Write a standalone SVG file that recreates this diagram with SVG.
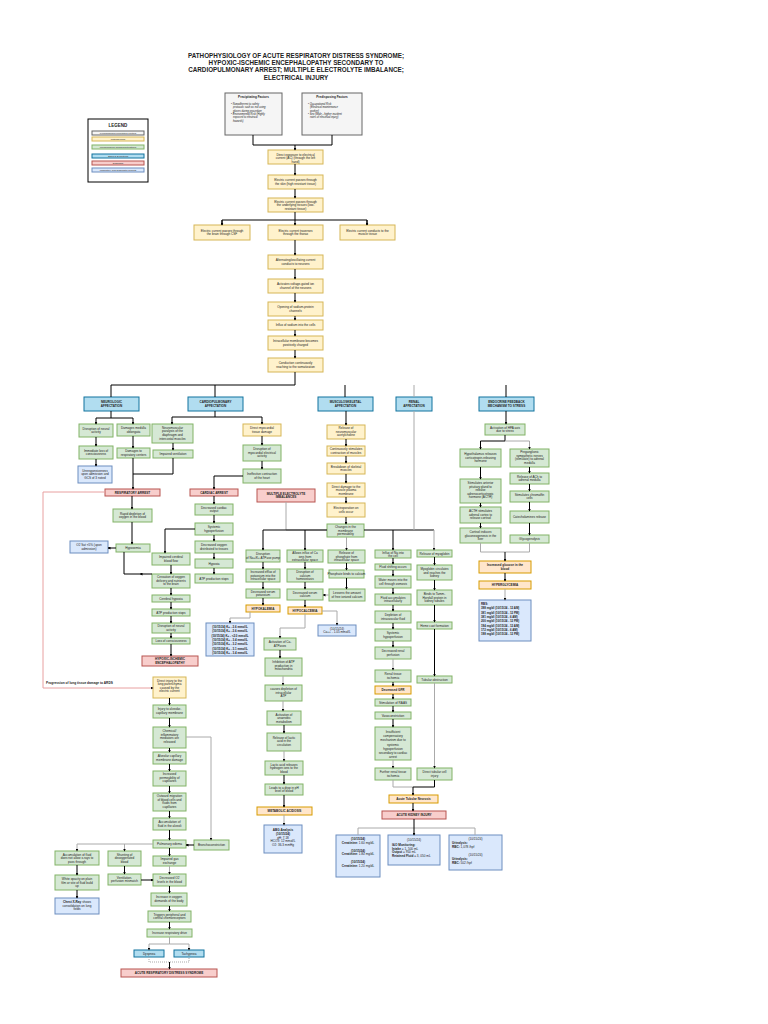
<svg xmlns="http://www.w3.org/2000/svg" width="768" height="1024" viewBox="0 0 768 1024">
<defs>
<marker id="a" viewBox="0 0 6 6" refX="5" refY="3" markerWidth="3" markerHeight="3" orient="auto"><path d="M0,0L6,3L0,6z" fill="#000"/></marker>
<style>
text{font-family:"Liberation Sans",Arial,sans-serif;font-size:3.1px;text-anchor:middle;fill:#222}
.b{font-weight:bold}
rect{stroke-width:1}
.g{fill:#d5e8d4;stroke:#82b366}
.y{fill:#fff2cc;stroke:#d6b656}
.s{fill:#b1ddf0;stroke:#10739e}
.r{fill:#f8cecc;stroke:#b85450}
.l{fill:#dae8fc;stroke:#6c8ebf}
.o{fill:#ffe6cc;stroke:#d79b00}
.p{fill:#f5f5f5;stroke:#666}
.c path{fill:none;stroke:#000;stroke-width:1;marker-end:url(#a)}
.c path.gr{stroke:#aaa}
.c path.n{marker-end:none}
</style>
</defs>
<rect width="768" height="1024" fill="#fff"/>
<g id="title"><text class="b" style="font-size:6.3px" x="296" y="58">PATHOPHYSIOLOGY OF ACUTE RESPIRATORY DISTRESS SYNDROME;<tspan x="296" dy="7.2">HYPOXIC-ISCHEMIC ENCEPHALOPATHY SECONDARY TO</tspan><tspan x="296" dy="7.2">CARDIOPULMONARY ARREST; MULTIPLE ELECTROLYTE IMBALANCE;</tspan><tspan x="296" dy="7.2">ELECTRICAL INJURY</tspan></text></g>

<g id="legend"><rect x="88" y="119" width="60" height="63" fill="#fff" stroke="#000" stroke-width="1"/>
<text class="b" style="font-size:4.5px" x="118" y="127">LEGEND</text>
<rect class="p" x="92" y="131" width="52" height="4"/><text x="118" y="134.2" style="font-size:2.4px">Predisposing/Precipitating Factors</text>
<rect class="y" x="92" y="137" width="52" height="4"/><text x="118" y="140.2" style="font-size:2.4px">Pathogenesis</text>
<rect class="g" x="92" y="145" width="52" height="4"/><text x="118" y="148.2" style="font-size:2.4px">Morphological changes/alterations</text>
<rect class="s" x="92" y="154" width="52" height="4"/><text x="118" y="157.2" style="font-size:2.4px">Signs &amp; Symptoms</text>
<rect class="r" x="92" y="161" width="52" height="4"/><text x="118" y="164.2" style="font-size:2.4px">Diagnosis</text>
<rect class="l" x="92" y="168" width="52" height="4"/><text x="118" y="171.2" style="font-size:2.4px">Laboratory and Diagnostic Results</text></g>

<g id="precip"><rect class="p" x="225" y="93" width="57" height="42"/><text class="b" x="253.5" y="98">Precipitating Factors</text>
<text style="text-anchor:start;font-style:italic;font-size:2.7px" x="231" y="105">• Nonadherent to safety<tspan x="233" dy="3.3">protocols such as not using</tspan><tspan x="233" dy="3.3">gloves during procedure</tspan><tspan x="231" dy="3.3">• Environmental Risk (Highly</tspan><tspan x="233" dy="3.3">exposed to electrical</tspan><tspan x="233" dy="3.3">hazards)</tspan></text></g>
<g id="predisp"><rect class="p" x="302" y="93" width="60" height="42"/><text class="b" x="332" y="98">Predisposing Factors</text>
<text style="text-anchor:start;font-style:italic;font-size:2.7px" x="308" y="105">• Occupational Risk<tspan x="310" dy="3.3">(Electrical maintenance</tspan><tspan x="310" dy="3.3">worker)</tspan><tspan x="308" dy="3.3">• Sex (Male - higher incident</tspan><tspan x="310" dy="3.3">rates of electrical injury)</tspan></text></g>

<g id="n1"><rect class="y" x="268" y="150" width="55" height="14"/><text x="295.5" y="155.5">Direct exposure to electrical<tspan x="295.5" dy="3.6">current (AC) (through the left</tspan><tspan x="295.5" dy="3.6">hand)</tspan></text></g>
<g id="n2"><rect class="y" x="268" y="175" width="55" height="14"/><text x="295.5" y="181">Electric current passes through<tspan x="295.5" dy="3.6">the skin (high resistant tissue)</tspan></text></g>
<g id="n3"><rect class="y" x="268" y="198" width="55" height="14"/><text x="295.5" y="202.5">Electric current passes through<tspan x="295.5" dy="3.6">the underlying tissues (low-</tspan><tspan x="295.5" dy="3.6">resistant tissue)</tspan></text></g>
<g id="n4a"><rect class="y" x="194" y="225" width="56" height="15"/><text x="222" y="231.5">Electric current passes through<tspan x="222" dy="3.6">the brain through CSF</tspan></text></g>
<g id="n4b"><rect class="y" x="268" y="225" width="55" height="15"/><text x="295.5" y="231.5">Electric current traverses<tspan x="295.5" dy="3.6">through the thorax</tspan></text></g>
<g id="n4c"><rect class="y" x="340" y="225" width="55" height="15"/><text x="367.5" y="231.5">Electric current conducts to the<tspan x="367.5" dy="3.6">muscle tissue</tspan></text></g>
<g id="n5"><rect class="y" x="268" y="255" width="55" height="14"/><text x="295.5" y="261">Alternating/oscillating current<tspan x="295.5" dy="3.6">conducts to neurons</tspan></text></g>
<g id="n6"><rect class="y" x="268" y="279" width="55" height="14"/><text x="295.5" y="285">Activates voltage-gated ion<tspan x="295.5" dy="3.6">channel of the neurons</tspan></text></g>
<g id="n7"><rect class="y" x="268" y="302" width="55" height="14"/><text x="295.5" y="308">Opening of sodium-protein<tspan x="295.5" dy="3.6">channels</tspan></text></g>
<g id="n8"><rect class="y" x="268" y="320" width="55" height="10"/><text x="295.5" y="326">Influx of sodium into the cells</text></g>
<g id="n9"><rect class="y" x="268" y="336" width="55" height="14"/><text x="295.5" y="342">Intracellular membrane becomes<tspan x="295.5" dy="3.6">positively charged</tspan></text></g>
<g id="n10"><rect class="y" x="268" y="358" width="55" height="14"/><text x="295.5" y="364">Conduction continuously<tspan x="295.5" dy="3.6">reaching to the somatization</tspan></text></g>

<g id="neuro"><rect class="s" x="84" y="397" width="55" height="14"/><text class="b" x="111.5" y="403">NEUROLOGIC<tspan x="111.5" dy="3.6">AFFECTATION</tspan></text></g>
<g id="cardio"><rect class="s" x="188" y="397" width="55" height="14"/><text class="b" x="215.5" y="403">CARDIOPULMONARY<tspan x="215.5" dy="3.6">AFFECTATION</tspan></text></g>
<g id="musc"><rect class="s" x="318" y="397" width="55" height="14"/><text class="b" x="345.5" y="403">MUSCULOSKELETAL<tspan x="345.5" dy="3.6">AFFECTATION</tspan></text></g>
<g id="renal"><rect class="s" x="396" y="397" width="36" height="14"/><text class="b" x="414" y="403">RENAL<tspan x="414" dy="3.6">AFFECTATION</tspan></text></g>
<g id="endo"><rect class="s" x="479" y="397" width="55" height="14"/><text class="b" x="506.5" y="403">ENDOCRINE FEEDBACK<tspan x="506.5" dy="3.6">MECHANISM TO STRESS</tspan></text></g>

<g id="ne1"><rect class="g" x="79" y="424" width="34" height="13"/><text x="96" y="429.5">Disruption of neural<tspan x="96" dy="3.6">activity</tspan></text></g>
<g id="ne2"><rect class="g" x="117" y="424" width="33" height="12"/><text x="133.5" y="429">Damages medulla<tspan x="133.5" dy="3.6">oblongata</tspan></text></g>
<g id="ne3"><rect class="g" x="79" y="446" width="34" height="13"/><text x="96" y="451.5">Immediate loss of<tspan x="96" dy="3.6">consciousness</tspan></text></g>
<g id="ne4"><rect class="g" x="117" y="448" width="33" height="10"/><text x="133.5" y="452">Damages to<tspan x="133.5" dy="3.6">respiratory centers</tspan></text></g>
<g id="ne5"><rect class="l" x="78" y="466" width="34" height="17"/><text x="95" y="471.5">Unresponsiveness<tspan x="95" dy="3.6">upon admission and</tspan><tspan x="95" dy="3.6">GCS of 3 noted</tspan></text></g>
<g id="cp1"><rect class="g" x="152" y="424" width="41" height="19"/><text x="172.5" y="428.8">Neuromuscular<tspan x="172.5" dy="3.6">paralysis of the</tspan><tspan x="172.5" dy="3.6">diaphragm and</tspan><tspan x="172.5" dy="3.6">intercostal muscles</tspan></text></g>
<g id="cp2"><rect class="g" x="153" y="450" width="40" height="8"/><text x="173" y="455">Impaired ventilation</text></g>
<g id="cp3"><rect class="y" x="243" y="424" width="38" height="12"/><text x="262" y="429">Direct myocardial<tspan x="262" dy="3.6">tissue damage</tspan></text></g>
<g id="cp4"><rect class="g" x="243" y="445" width="38" height="16"/><text x="262" y="450">Disruption of<tspan x="262" dy="3.6">myocardial electrical</tspan><tspan x="262" dy="3.6">activity</tspan></text></g>
<g id="cp5"><rect class="g" x="243" y="469" width="38" height="14"/><text x="262" y="475">Ineffective contraction<tspan x="262" dy="3.6">of the heart</tspan></text></g>
<g id="resp"><rect class="r" x="105" y="489" width="55" height="7"/><text class="b" x="132.5" y="493.7">RESPIRATORY ARREST</text></g>
<g id="card"><rect class="r" x="190" y="489" width="48" height="7"/><text class="b" x="214" y="493.7">CARDIAC ARREST</text></g>
<g id="mei"><rect class="r" x="257" y="489" width="58" height="13"/><text class="b" x="286" y="494.5">MULTIPLE ELECTROLYTE<tspan x="286" dy="3.6">IMBALANCES</tspan></text></g>

<g id="ra1"><rect class="g" x="113" y="509" width="39" height="13"/><text x="132.5" y="514.5">Rapid depletion of<tspan x="132.5" dy="3.6">oxygen in the blood</tspan></text></g>
<g id="hypox"><rect class="g" x="116" y="544" width="34" height="8"/><text x="133" y="549">Hypoxemia</text></g>
<g id="o2"><rect class="l" x="70" y="541" width="38" height="12"/><text x="89" y="546">O2 Sat &lt;5% (upon<tspan x="89" dy="3.6">admission)</tspan></text></g>
<g id="ca1"><rect class="g" x="195" y="504" width="38" height="11"/><text x="214" y="508.5">Decreased cardiac<tspan x="214" dy="3.6">output</tspan></text></g>
<g id="ca2"><rect class="g" x="195" y="523" width="38" height="12"/><text x="214" y="528">Systemic<tspan x="214" dy="3.6">hypoperfusion</tspan></text></g>
<g id="ca3"><rect class="g" x="195" y="541" width="38" height="12"/><text x="214" y="546">Decreased oxygen<tspan x="214" dy="3.6">distributed to tissues</tspan></text></g>
<g id="ca4"><rect class="g" x="195" y="559" width="38" height="9"/><text x="214" y="564.5">Hypoxia</text></g>
<g id="ca5"><rect class="g" x="195" y="574" width="38" height="9"/><text x="214" y="579.5">ATP production stops</text></g>
<g id="hi1"><rect class="g" x="152" y="553" width="38" height="12"/><text x="171" y="558">Impaired cerebral<tspan x="171" dy="3.6">blood flow</tspan></text></g>
<g id="hi2"><rect class="g" x="152" y="574" width="38" height="14"/><text x="171" y="578">Cessation of oxygen<tspan x="171" dy="3.6">delivery and nutrients</tspan><tspan x="171" dy="3.6">to the brain</tspan></text></g>
<g id="hi3"><rect class="g" x="152" y="595" width="38" height="7"/><text x="171" y="599.6">Cerebral hypoxia</text></g>
<g id="hi4"><rect class="g" x="152" y="609" width="38" height="7"/><text x="171" y="613.6">ATP production stops</text></g>
<g id="hi5"><rect class="g" x="152" y="623" width="38" height="10"/><text x="171" y="627">Disruption of neural<tspan x="171" dy="3.6">activity</tspan></text></g>
<g id="hi6"><rect class="g" x="152" y="638" width="38" height="6"/><text x="171" y="642">Loss of consciousness</text></g>
<g id="hie"><rect class="r" x="142" y="656" width="56" height="10"/><text class="b" x="170" y="660">HYPOXIC-ISCHEMIC<tspan x="170" dy="3.6">ENCEPHALOPATHY</tspan></text></g>

<g id="mu1"><rect class="y" x="327" y="425" width="38" height="14"/><text x="346" y="429">Release of<tspan x="346" dy="3.6">neuromuscular</tspan><tspan x="346" dy="3.6">acetylcholine</tspan></text></g>
<g id="mu2"><rect class="y" x="327" y="446" width="38" height="10"/><text x="346" y="450">Continuously stimulates<tspan x="346" dy="3.6">contraction of muscles</tspan></text></g>
<g id="mu3"><rect class="y" x="327" y="463" width="38" height="11"/><text x="346" y="467.5">Breakdown of skeletal<tspan x="346" dy="3.6">muscles</tspan></text></g>
<g id="mu4"><rect class="y" x="327" y="483" width="38" height="14"/><text x="346" y="487.5">Direct damage to the<tspan x="346" dy="3.6">muscle plasma</tspan><tspan x="346" dy="3.6">membrane</tspan></text></g>
<g id="mu5"><rect class="y" x="327" y="503" width="38" height="14"/><text x="346" y="509">Electroporation on<tspan x="346" dy="3.6">cells occur</tspan></text></g>
<g id="mu6"><rect class="g" x="327" y="524" width="37" height="13"/><text x="345.5" y="528">Changes in the<tspan x="345.5" dy="3.6">membrane</tspan><tspan x="345.5" dy="3.6">permeability</tspan></text></g>

<g id="e1"><rect class="g" x="246" y="550" width="34" height="12"/><text x="263" y="555">Disruption<tspan x="263" dy="3.6">of Na+/K+ ATPase pump</tspan></text></g>
<g id="e2"><rect class="g" x="246" y="569" width="34" height="13"/><text x="263" y="573">Increased efflux of<tspan x="263" dy="3.6">potassium into the</tspan><tspan x="263" dy="3.6">intracellular space</tspan></text></g>
<g id="e3"><rect class="g" x="246" y="589" width="34" height="9"/><text x="263" y="592.7">Decreased serum<tspan x="263" dy="3.6">potassium</tspan></text></g>
<g id="hk"><rect class="o" x="246" y="605" width="34" height="7"/><text class="b" x="263" y="609.6">HYPOKALEMIA</text></g>
<g id="klab"><rect class="l" x="206" y="623" width="48" height="33"/><text class="b" style="font-size:2.9px" x="230" y="628">(10/15/24) K+ - 2.6 mmol/L<tspan x="230" dy="4.3">(10/15/24) K+ - 2.6 mmol/L</tspan><tspan x="230" dy="4.3">(10/15/24) K+ - &lt;2.0 mmol/L</tspan><tspan x="230" dy="4.3">(10/15/24) K+ - 3.4 mmol/L</tspan><tspan x="230" dy="4.3">(10/15/24) K+ - 3.2 mmol/L</tspan><tspan x="230" dy="4.3">(10/15/24) K+ - 3.1 mmol/L</tspan><tspan x="230" dy="4.3">(10/15/24) K+ - 3.4 mmol/L</tspan></text></g>
<g id="e4"><rect class="g" x="287" y="550" width="36" height="12"/><text x="305" y="554">Allows influx of Ca<tspan x="305" dy="3.6">ions from</tspan><tspan x="305" dy="3.6">extracellular space</tspan></text></g>
<g id="e5"><rect class="g" x="287" y="569" width="36" height="13"/><text x="305" y="573">Disruption of<tspan x="305" dy="3.6">calcium</tspan><tspan x="305" dy="3.6">homeostasis</tspan></text></g>
<g id="e6"><rect class="g" x="287" y="589" width="36" height="11"/><text x="305" y="593.5">Decreased serum<tspan x="305" dy="3.6">calcium</tspan></text></g>
<g id="hc"><rect class="o" x="288" y="607" width="34" height="7"/><text class="b" x="305" y="611.6">HYPOCALCEMIA</text></g>
<g id="calab"><rect class="l" x="318" y="625" width="38" height="11"/><text x="337" y="629.5">(10/15/24)<tspan x="337" dy="3.6">Ca++ - 1.05 mmol/L</tspan></text></g>
<g id="e7"><rect class="g" x="328" y="550" width="37" height="13"/><text x="346.5" y="554">Release of<tspan x="346.5" dy="3.6">phosphate from</tspan><tspan x="346.5" dy="3.6">intracellular space</tspan></text></g>
<g id="e8"><rect class="g" x="329" y="570" width="35" height="8"/><text x="346.5" y="575">Phosphate binds to calcium</text></g>
<g id="e9"><rect class="g" x="329" y="589" width="36" height="12"/><text x="347" y="594">Lessens the amount<tspan x="347" dy="3.6">of free ionized calcium</tspan></text></g>

<g id="m1"><rect class="g" x="264" y="638" width="32" height="12"/><text x="280" y="643">Activation of Ca-<tspan x="280" dy="3.6">ATPases</tspan></text></g>
<g id="m2"><rect class="g" x="265" y="658" width="37" height="18"/><text x="283.5" y="663">Inhibition of ATP<tspan x="283.5" dy="3.6">production in</tspan><tspan x="283.5" dy="3.6">mitochondria</tspan></text></g>
<g id="m3"><rect class="g" x="265" y="685" width="37" height="16"/><text x="283.5" y="690">causes depletion of<tspan x="283.5" dy="3.6">intracellular</tspan><tspan x="283.5" dy="3.6">ATP</tspan></text></g>
<g id="m4"><rect class="g" x="267" y="711" width="34" height="14"/><text x="284" y="715.5">Activation of<tspan x="284" dy="3.6">anaerobic</tspan><tspan x="284" dy="3.6">metabolism</tspan></text></g>
<g id="m5"><rect class="g" x="267" y="733" width="34" height="18"/><text x="284" y="738.5">Release of lactic<tspan x="284" dy="3.6">acid in the</tspan><tspan x="284" dy="3.6">circulation</tspan></text></g>
<g id="m6"><rect class="g" x="265" y="761" width="38" height="14"/><text x="284" y="765.5">Lactic acid releases<tspan x="284" dy="3.6">hydrogen ions to the</tspan><tspan x="284" dy="3.6">blood</tspan></text></g>
<g id="m7"><rect class="g" x="265" y="784" width="38" height="11"/><text x="284" y="788.5">Leads to a drop in pH<tspan x="284" dy="3.6">level of blood</tspan></text></g>
<g id="ma"><rect class="o" x="257" y="807" width="55" height="8"/><text class="b" x="284.5" y="812">METABOLIC ACIDOSIS</text></g>
<g id="abg"><rect class="l" x="264" y="825" width="38" height="28"/><text class="b" x="283" y="831">ABG Analysis<tspan x="283" dy="3.6">(10/15/24)</tspan></text><text x="283" y="838.6">pH: 7.18<tspan x="283" dy="3.6">HCO3: 12 mmol/L</tspan><tspan x="283" dy="3.6">O2: 36.3 mmHg</tspan></text></g>

<g id="r1"><rect class="g" x="375" y="550" width="36" height="8"/><text x="393" y="553.5">Influx of Na into<tspan x="393" dy="3.3">the cell</tspan></text></g>
<g id="r2"><rect class="g" x="375" y="564" width="36" height="6"/><text x="393" y="568">Fluid shifting occurs</text></g>
<g id="r3"><rect class="g" x="375" y="576" width="36" height="12"/><text x="393" y="581">Water moves into the<tspan x="393" dy="3.6">cell through osmosis</tspan></text></g>
<g id="r4"><rect class="g" x="375" y="594" width="36" height="11"/><text x="393" y="598.5">Fluid accumulates<tspan x="393" dy="3.6">intracellularly</tspan></text></g>
<g id="r5"><rect class="g" x="375" y="611" width="36" height="12"/><text x="393" y="616">Depletion of<tspan x="393" dy="3.6">intravascular fluid</tspan></text></g>
<g id="r6"><rect class="g" x="375" y="629" width="36" height="12"/><text x="393" y="634">Systemic<tspan x="393" dy="3.6">hypoperfusion</tspan></text></g>
<g id="r7"><rect class="g" x="375" y="647" width="36" height="12"/><text x="393" y="652">Decreased renal<tspan x="393" dy="3.6">perfusion</tspan></text></g>
<g id="r8"><rect class="g" x="375" y="670" width="36" height="12"/><text x="393" y="675">Renal tissue<tspan x="393" dy="3.6">ischemia</tspan></text></g>
<g id="gfr"><rect class="o" x="375" y="686" width="36" height="8"/><text class="b" x="393" y="691">Decreased GFR</text></g>
<g id="r9"><rect class="g" x="375" y="699" width="36" height="7"/><text x="393" y="703.6">Stimulation of RAAS</text></g>
<g id="r10"><rect class="g" x="375" y="712" width="36" height="7"/><text x="393" y="716.6">Vasoconstriction</text></g>
<g id="r11"><rect class="g" x="375" y="727" width="36" height="33"/><text x="393" y="733">Insufficient<tspan x="393" dy="4.2">compensatory</tspan><tspan x="393" dy="4.2">mechanism due to</tspan><tspan x="393" dy="4.2">systemic</tspan><tspan x="393" dy="4.2">hypoperfusion</tspan><tspan x="393" dy="4.2">secondary to cardiac</tspan><tspan x="393" dy="4.2">arrest</tspan></text></g>
<g id="r12"><rect class="g" x="375" y="768" width="36" height="12"/><text x="393" y="773">Further renal tissue<tspan x="393" dy="3.6">ischemia</tspan></text></g>
<g id="k1"><rect class="g" x="417" y="550" width="35" height="7"/><text x="434.5" y="554.6">Release of myoglobin</text></g>
<g id="k2"><rect class="g" x="417" y="565" width="35" height="15"/><text x="434.5" y="570">Myoglobin circulates<tspan x="434.5" dy="3.6">and reaches the</tspan><tspan x="434.5" dy="3.6">kidney</tspan></text></g>
<g id="k3"><rect class="g" x="417" y="590" width="35" height="15"/><text x="434.5" y="595">Binds to Tamm-<tspan x="434.5" dy="3.6">Horsfall protein in</tspan><tspan x="434.5" dy="3.6">kidney tubules</tspan></text></g>
<g id="k4"><rect class="g" x="417" y="622" width="35" height="7"/><text x="434.5" y="626.6">Heme cast formation</text></g>
<g id="k5"><rect class="g" x="417" y="676" width="35" height="7"/><text x="434.5" y="680.6">Tubular obstruction</text></g>
<g id="k6"><rect class="g" x="417" y="768" width="35" height="12"/><text x="434.5" y="773">Direct tubular cell<tspan x="434.5" dy="3.6">injury</tspan></text></g>
<g id="atn"><rect class="o" x="389" y="795" width="49" height="8"/><text class="b" x="413.5" y="800">Acute Tubular Necrosis</text></g>
<g id="aki"><rect class="r" x="382" y="811" width="64" height="8"/><text class="b" x="414" y="816">ACUTE KIDNEY INJURY</text></g>
<g id="lab1"><rect class="l" x="336" y="835" width="44" height="42"/><text x="358" y="840" class="b">(10/15/24)<tspan x="358" dy="3.6">Creatinine: <tspan font-weight="normal">1.60 mg/dL</tspan></tspan><tspan x="358" dy="8">(10/15/24)</tspan><tspan x="358" dy="3.6">Creatinine: <tspan font-weight="normal">1.80 mg/dL</tspan></tspan><tspan x="358" dy="8">(10/15/24)</tspan><tspan x="358" dy="3.6">Creatinine: <tspan font-weight="normal">1.20 mg/dL</tspan></tspan></text></g>
<g id="lab2"><rect class="l" x="388" y="835" width="52" height="30"/><text x="414" y="841">(10/15/24)</text><text class="b" style="text-anchor:start" x="392" y="846">I&amp;O Monitoring:<tspan x="392" dy="3.6">Intake <tspan font-weight="normal">= 1, 500 mL</tspan></tspan><tspan x="392" dy="3.6">Output <tspan font-weight="normal">= 950 mL</tspan></tspan><tspan x="392" dy="3.6">Retained Fluid <tspan font-weight="normal">= 3, 050 mL</tspan></tspan></text></g>
<g id="lab3"><rect class="l" x="449" y="835" width="53" height="35"/><text x="475.5" y="840">(10/15/24)</text><text class="b" style="text-anchor:start" x="452" y="844">Urinalysis:<tspan x="452" dy="3.6">RBC: <tspan font-weight="normal">1,078 /hpf</tspan></tspan></text><text x="475.5" y="856">(10/15/24)</text><text class="b" style="text-anchor:start" x="452" y="860">Urinalysis:<tspan x="452" dy="3.6">RBC: <tspan font-weight="normal">502 /hpf</tspan></tspan></text></g>

<g id="en1"><rect class="g" x="485" y="424" width="40" height="11"/><text x="505" y="428.5">Activation of HPA axis<tspan x="505" dy="3.6">due to stress</tspan></text></g>
<g id="en2"><rect class="g" x="460" y="449" width="41" height="18"/><text x="480.5" y="455">Hypothalamus releases<tspan x="480.5" dy="3.6">corticotropin-releasing</tspan><tspan x="480.5" dy="3.6">hormone</tspan></text></g>
<g id="en3"><rect class="g" x="460" y="479" width="41" height="24"/><text x="480.5" y="484">Stimulates anterior<tspan x="480.5" dy="3.6">pituitary gland to</tspan><tspan x="480.5" dy="3.6">release</tspan><tspan x="480.5" dy="3.6">adrenocorticotropic</tspan><tspan x="480.5" dy="3.6">hormone (ACTH)</tspan></text></g>
<g id="en4"><rect class="g" x="460" y="507" width="41" height="16"/><text x="480.5" y="512">ACTH stimulates<tspan x="480.5" dy="3.6">adrenal cortex to</tspan><tspan x="480.5" dy="3.6">release cortisol</tspan></text></g>
<g id="en5"><rect class="g" x="460" y="528" width="41" height="15"/><text x="480.5" y="533">Cortisol induces<tspan x="480.5" dy="3.6">gluconeogenesis in the</tspan><tspan x="480.5" dy="3.6">liver</tspan></text></g>
<g id="en6"><rect class="g" x="510" y="449" width="39" height="18"/><text x="529.5" y="453">Preganglionic<tspan x="529.5" dy="3.6">sympathetic nerves</tspan><tspan x="529.5" dy="3.6">(stimulate) to adrenal</tspan><tspan x="529.5" dy="3.6">medulla</tspan></text></g>
<g id="en7"><rect class="g" x="510" y="473" width="39" height="11"/><text x="529.5" y="477.5">Release of ACh to<tspan x="529.5" dy="3.6">adrenal medulla</tspan></text></g>
<g id="en8"><rect class="g" x="510" y="491" width="39" height="11"/><text x="529.5" y="495.5">Stimulates chromaffin<tspan x="529.5" dy="3.6">cells</tspan></text></g>
<g id="en9"><rect class="g" x="510" y="511" width="39" height="12"/><text x="529.5" y="518">Catecholamines release</text></g>
<g id="en10"><rect class="g" x="510" y="535" width="39" height="8"/><text x="529.5" y="540">Glycogenolysis</text></g>
<g id="glu"><rect class="o" x="479" y="561" width="52" height="12"/><text class="b" x="505" y="566">Increased glucose in the<tspan x="505" dy="3.6">blood</tspan></text></g>
<g id="hg"><rect class="o" x="479" y="581" width="52" height="8"/><text class="b" x="505" y="586">HYPERGLYCEMIA</text></g>
<g id="rbs"><rect class="l" x="479" y="600" width="52" height="41"/><text class="b" style="text-anchor:start;font-size:2.9px" x="481" y="605">RBS:<tspan x="481" dy="4.3">398 mg/dl (10/15/24 - 12 AM)</tspan><tspan x="481" dy="4.3">381 mg/dl (10/15/24 - 12 PM)</tspan><tspan x="481" dy="4.3">381 mg/dl (10/15/24 - 6 AM)</tspan><tspan x="481" dy="4.3">200 mg/dl (10/15/24 - 12 PM)</tspan><tspan x="481" dy="4.3">194 mg/dl (10/15/24 - 12 AM)</tspan><tspan x="481" dy="4.3">172 mg/dl (10/15/24 - 6 AM)</tspan><tspan x="481" dy="4.3">198 mg/dl (10/15/24 - 12 PM)</tspan></text></g>

<g id="prog"><text class="b" style="text-anchor:start;font-size:3.2px" x="46" y="684">Progression of lung tissue damage to ARDS</text></g>
<g id="a1"><rect class="y" x="153" y="677" width="33" height="21"/><text x="169.5" y="681.5">Direct injury to the<tspan x="169.5" dy="3.6">lung parenchyma</tspan><tspan x="169.5" dy="3.6">caused by the</tspan><tspan x="169.5" dy="3.6">electric current</tspan></text></g>
<g id="a2"><rect class="g" x="153" y="705" width="33" height="13"/><text x="169.5" y="710">Injury to alveolar-<tspan x="169.5" dy="3.6">capillary membrane</tspan></text></g>
<g id="a3"><rect class="g" x="153" y="727" width="33" height="21"/><text x="169.5" y="732">Chemical/<tspan x="169.5" dy="3.6">inflammatory</tspan><tspan x="169.5" dy="3.6">mediators are</tspan><tspan x="169.5" dy="3.6">released</tspan></text></g>
<g id="a4"><rect class="g" x="153" y="752" width="33" height="12"/><text x="169.5" y="757">Alveolar capillary<tspan x="169.5" dy="3.6">membrane damage</tspan></text></g>
<g id="a5"><rect class="g" x="153" y="771" width="33" height="15"/><text x="169.5" y="775">Increased<tspan x="169.5" dy="3.6">permeability of</tspan><tspan x="169.5" dy="3.6">capillaries</tspan></text></g>
<g id="a6"><rect class="g" x="153" y="793" width="33" height="18"/><text x="169.5" y="797">Outward migration<tspan x="169.5" dy="3.6">of blood cells and</tspan><tspan x="169.5" dy="3.6">fluids from</tspan><tspan x="169.5" dy="3.6">capillaries</tspan></text></g>
<g id="a7"><rect class="g" x="153" y="818" width="33" height="12"/><text x="169.5" y="823">Accumulation of<tspan x="169.5" dy="3.6">fluid in the alveoli</tspan></text></g>
<g id="a8"><rect class="g" x="153" y="840" width="33" height="8"/><text x="169.5" y="845">Pulmonary edema</text></g>
<g id="a9"><rect class="g" x="194" y="840" width="35" height="10"/><text x="211.5" y="846">Bronchoconstriction</text></g>
<g id="a10"><rect class="g" x="153" y="856" width="33" height="10"/><text x="169.5" y="860">Impaired gas<tspan x="169.5" dy="3.6">exchange</tspan></text></g>
<g id="a11"><rect class="g" x="108" y="851" width="33" height="15"/><text x="124.5" y="855.5">Shunting of<tspan x="124.5" dy="3.6">deoxygenated</tspan><tspan x="124.5" dy="3.6">blood</tspan></text></g>
<g id="a12"><rect class="g" x="55" y="851" width="44" height="14"/><text x="77" y="855.5">Accumulation of fluid<tspan x="77" dy="3.6">does not allow x-rays to</tspan><tspan x="77" dy="3.6">pass through</tspan></text></g>
<g id="a13"><rect class="g" x="108" y="874" width="33" height="11"/><text x="124.5" y="878.5">Ventilation-<tspan x="124.5" dy="3.6">perfusion mismatch</tspan></text></g>
<g id="a14"><rect class="g" x="153" y="874" width="33" height="12"/><text x="169.5" y="879">Decreased O2<tspan x="169.5" dy="3.6">levels in the blood</tspan></text></g>
<g id="a15"><rect class="g" x="55" y="875" width="44" height="15"/><text x="77" y="880">White opacity on plain<tspan x="77" dy="3.6">film or site of fluid build</tspan><tspan x="77" dy="3.6">up</tspan></text></g>
<g id="a16"><rect class="l" x="55" y="898" width="44" height="16"/><text x="77" y="903"><tspan font-weight="bold">Chest X-Ray</tspan> shows<tspan x="77" dy="3.6">consolidation on lung</tspan><tspan x="77" dy="3.6">fields</tspan></text></g>
<g id="a17"><rect class="g" x="151" y="893" width="36" height="13"/><text x="169" y="898">Increase in oxygen<tspan x="169" dy="3.6">demands of the body</tspan></text></g>
<g id="a18"><rect class="g" x="148" y="911" width="43" height="11"/><text x="169.5" y="915.5">Triggers peripheral and<tspan x="169.5" dy="3.6">central chemoreceptors</tspan></text></g>
<g id="a19"><rect class="g" x="147" y="929" width="45" height="8"/><text x="169.5" y="934">Increase respiratory drive</text></g>
<g id="dys"><rect class="s" x="134" y="950" width="30" height="7"/><text x="149" y="954.6">Dyspnea</text></g>
<g id="tac"><rect class="s" x="174" y="950" width="30" height="7"/><text x="189" y="954.6">Tachypnea</text></g>
<g id="ards"><rect class="r" x="121" y="969" width="96" height="8"/><text class="b" x="169" y="974">ACUTE RESPIRATORY DISTRESS SYNDROME</text></g>

<g class="c" id="connectors">
<path class="n" d="M253,135V145H332V135"/><path d="M295,145V150"/>
<path d="M295,164V175"/><path d="M295,189V198"/><path d="M295,212V225"/>
<path d="M222,220H367M222,220V225M367,220V225" class="n"/><path d="M222,220V225"/><path d="M367,220V225"/>
<path d="M295,240V255"/><path d="M295,269V279"/><path d="M295,293V302"/><path d="M295,316V320"/><path d="M295,330V336"/><path d="M295,350V358"/>
<path class="n" d="M295,372V385H111V397M215,385V397M345,385V397M506,385V397"/><path class="gr n" d="M414,385V397"/>
<path class="n" d="M111,411V418H96M111,418H133"/><path d="M96,418V424"/><path d="M133,418V424"/>
<path class="n" d="M215,411V417H172M215,417H262"/><path d="M172,417V424"/><path d="M262,417V424"/>
<path d="M96,437V446"/><path d="M96,459V466"/><path d="M133,436V448"/><path d="M173,443V450"/>
<path class="n" d="M133,458V480M173,458V474H133"/><path d="M133,480V489"/>
<path d="M262,436V445"/><path d="M262,461V469"/><path class="n" d="M243,476H214"/><path d="M214,476V489"/>
<path d="M132,496V509"/><path d="M132,522V544"/><path d="M116,548H108"/>
<path d="M214,496V504"/><path d="M214,515V523"/><path d="M214,535V541"/><path d="M214,553V559"/><path d="M214,568V574"/>
<path class="n" d="M195,529H165"/><path d="M165,529V553"/>
<path class="n" d="M124,552V574H140"/><path d="M152,574H140"/><path d="M171,565V574"/>
<path d="M171,588V595"/><path d="M171,602V609"/><path d="M171,616V623"/><path d="M171,633V638"/><path d="M171,644V656"/>
<path d="M346,411V425"/><path d="M346,439V446"/><path d="M346,456V463"/><path d="M346,474V483"/><path d="M346,497V503"/><path d="M346,517V524"/>
<path class="gr n" d="M286,502V530H327"/>
<path class="n" d="M364,530H434M327,530H263"/><path d="M263,530V550"/><path d="M305,530V550"/><path class="gr" d="M346.5,537V550"/><path d="M393,530V550"/><path class="gr" d="M434,530V550"/>
<path class="gr n" d="M414,411V530"/>
<path d="M263,562V569"/><path d="M263,582V589"/><path d="M263,598V605"/>
<path d="M305,562V569"/><path d="M305,582V589"/><path d="M305,600V607"/>
<path d="M346.5,563V570"/><path d="M346.5,578V589"/><path class="gr" d="M329,595H323"/>
<path class="gr n" d="M250,612V618H230"/><path class="gr" d="M230,618V623"/>
<path class="gr" d="M322,611H337V625"/>
<path class="gr n" d="M305,614V628H280"/><path class="gr" d="M280,628V638"/>
<path d="M280,650V658"/><path class="gr" d="M283,676V685"/><path class="gr" d="M283,701V711"/><path d="M284,725V733"/><path class="gr" d="M284,751V761"/><path d="M284,775V784"/><path d="M284,795V807"/><path class="gr" d="M284,815V825"/>
<path d="M393,558V564"/><path d="M393,570V576"/><path d="M393,588V594"/><path d="M393,605V611"/><path d="M393,623V629"/><path d="M393,641V647"/><path class="gr" d="M393,659V670"/><path d="M393,682V686"/><path d="M393,694V699"/><path d="M393,706V712"/><path d="M393,719V727"/><path class="gr" d="M393,760V768"/>
<path d="M434.5,557V565"/><path d="M434.5,580V590"/><path d="M434.5,605V622"/><path d="M434.5,629V676"/><path class="gr" d="M434.5,683V768"/>
<path class="gr n" d="M393,780V787H413"/><path class="n" d="M434.5,780V787H413"/><path d="M413,787V795"/><path d="M413,803V811"/>
<path class="gr n" d="M358,828H475M358,828V835M475,828V835"/><path d="M414,819V835"/>
<path d="M506,411V424"/>
<path class="n" d="M505,435V441H480.5"/><path d="M480.5,441V449"/><path class="gr n" d="M505,441H529.5"/><path class="gr" d="M529.5,441V449"/>
<path d="M480.5,467V479"/><path d="M480.5,503V507"/><path d="M480.5,523V528"/>
<path d="M529.5,467V473"/><path d="M529.5,484V491"/><path d="M529.5,502V511"/><path d="M529.5,523V535"/>
<path class="gr n" d="M480.5,543V552H529.5V543"/><path d="M505,552V561"/><path d="M505,573V581"/><path class="gr" d="M505,589V600"/>
<path d="M169.5,698V705"/><path d="M169.5,718V727"/><path d="M169.5,748V752"/><path d="M169.5,764V771"/><path d="M169.5,786V793"/><path d="M169.5,811V818"/><path d="M169.5,830V840"/>
<path class="gr n" d="M186,737H211"/><path class="gr" d="M211,737V840"/><path d="M194,845H186"/>
<path class="gr n" d="M153,844H77M124.5,844V851"/><path class="gr" d="M77,844V851"/><path class="gr" d="M124.5,844V851"/>
<path d="M169.5,848V856"/><path class="gr" d="M169.5,866V874"/><path d="M124.5,866V874"/><path d="M141,880H153"/>
<path d="M77,865V875"/><path d="M77,890V898"/>
<path d="M169.5,886V893"/><path d="M169.5,906V911"/><path d="M169.5,922V929"/>
<path class="gr n" d="M169.5,937V944H149M169.5,944H189"/><path class="gr" d="M149,944V950"/><path class="gr" d="M189,944V950"/>
<path class="gr n" d="M149,957V962H189V957" stroke-dasharray="1,1"/><path d="M169.5,962V969"/>
<path class="n" style="stroke:#e8a0a0" d="M105,492H43V688H145"/><path style="stroke:#e8a0a0" d="M145,688H153"/>
</g>
</svg>
